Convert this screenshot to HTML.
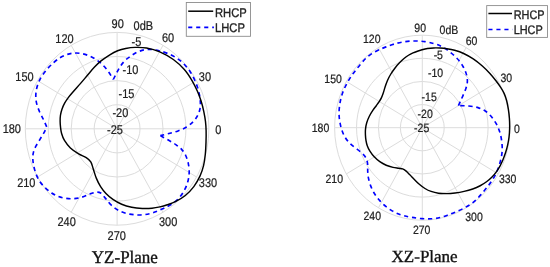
<!DOCTYPE html>
<html><head><meta charset="utf-8"><style>
html,body{margin:0;padding:0;background:#fff;}
body{width:550px;height:267px;overflow:hidden;}
svg{display:block;text-rendering:geometricPrecision;}
.g ellipse,.g line{fill:none;stroke:#dcdcdc;stroke-width:1;}
.t{font-family:"Liberation Sans",Arial,sans-serif;fill:#222;stroke:#222;stroke-width:0.2;text-anchor:middle;}
.lg{font-family:"Liberation Sans",Arial,sans-serif;fill:#222;stroke:#222;stroke-width:0.3;}
.cap{font-family:"Liberation Serif","Times New Roman",serif;fill:#111;stroke:#111;stroke-width:0.35;text-anchor:middle;}
.blk{fill:none;stroke:#000;stroke-width:1.45;stroke-linejoin:round;}
.blue{fill:none;stroke:#0000ff;stroke-width:1.65;stroke-dasharray:4.3 3.7;}
</style></head><body>
<svg width="550" height="267" viewBox="0 0 550 267">
<rect width="550" height="267" fill="#fff"/>
<g class="g"><ellipse cx="117.10" cy="128.80" rx="22.95" ry="24.10"/>
<ellipse cx="117.10" cy="128.80" rx="45.90" ry="48.20"/>
<ellipse cx="117.10" cy="128.80" rx="68.85" ry="72.29"/>
<ellipse cx="117.10" cy="128.80" rx="91.80" ry="96.39"/>
<line x1="208.90" y1="128.80" x2="25.30" y2="128.80"/>
<line x1="196.60" y1="80.61" x2="37.60" y2="177.00"/>
<line x1="163.00" y1="45.32" x2="71.20" y2="212.28"/>
<line x1="117.10" y1="32.41" x2="117.10" y2="225.19"/>
<line x1="71.20" y1="45.32" x2="163.00" y2="212.28"/>
<line x1="37.60" y1="80.61" x2="196.60" y2="177.00"/></g>
<path class="blu blue" d="M113.30 79.50 C113.83 78.47 115.35 75.44 116.48 73.32 C117.61 71.20 118.65 68.88 120.06 66.77 C121.48 64.65 123.03 62.51 124.95 60.62 C126.87 58.74 129.26 56.99 131.58 55.46 C133.91 53.94 136.27 52.46 138.93 51.45 C141.58 50.45 144.16 49.56 147.53 49.44 C150.90 49.31 155.12 49.74 159.15 50.71 C163.18 51.68 167.89 53.37 171.69 55.28 C175.50 57.18 178.95 59.49 181.98 62.16 C185.01 64.84 187.59 67.94 189.88 71.32 C192.18 74.71 194.20 78.76 195.75 82.47 C197.31 86.19 198.44 90.26 199.21 93.62 C199.98 96.98 200.26 100.00 200.37 102.61 C200.49 105.22 200.33 107.15 199.89 109.26 C199.46 111.37 198.87 113.23 197.76 115.28 C196.66 117.33 195.17 119.59 193.28 121.55 C191.40 123.51 189.01 125.50 186.47 127.05 C183.92 128.61 180.93 129.83 178.02 130.90 C175.11 131.97 171.95 132.70 169.00 133.48 C166.05 134.26 161.75 135.25 160.30 135.60 M160.30 135.60 C161.70 136.38 166.08 138.75 168.72 140.29 C171.36 141.83 173.95 143.30 176.13 144.85 C178.31 146.40 180.20 147.81 181.79 149.59 C183.39 151.37 184.62 153.25 185.69 155.51 C186.76 157.78 187.64 160.45 188.23 163.18 C188.82 165.90 189.24 168.92 189.21 171.85 C189.18 174.78 188.79 177.81 188.06 180.74 C187.32 183.68 186.23 186.69 184.79 189.49 C183.34 192.28 181.55 195.11 179.40 197.52 C177.26 199.93 174.49 202.16 171.92 203.94 C169.34 205.73 166.42 207.00 163.94 208.21 C161.45 209.42 159.39 210.27 157.01 211.19 C154.64 212.10 152.49 213.08 149.70 213.71 C146.91 214.34 143.61 214.90 140.25 214.97 C136.90 215.04 133.03 214.78 129.57 214.11 C126.12 213.43 122.54 212.38 119.50 210.90 C116.46 209.41 113.67 207.31 111.34 205.22 C109.01 203.13 107.24 200.35 105.53 198.36 C103.82 196.38 102.67 194.34 101.08 193.31 C99.49 192.27 97.97 191.99 96.00 192.16 C94.03 192.33 91.66 193.49 89.27 194.34 C86.88 195.19 84.28 196.54 81.66 197.27 C79.04 198.00 76.30 198.54 73.57 198.69 C70.83 198.85 67.83 198.60 65.23 198.21 C62.63 197.82 60.22 197.23 57.96 196.37 C55.70 195.50 53.78 194.44 51.68 193.03 C49.57 191.62 47.32 189.85 45.33 187.92 C43.34 185.98 41.30 183.79 39.73 181.42 C38.16 179.04 36.91 176.35 35.90 173.67 C34.88 170.99 34.16 167.94 33.64 165.36 C33.13 162.78 32.82 160.36 32.79 158.19 C32.76 156.02 32.93 154.33 33.44 152.34 C33.96 150.35 34.81 148.40 35.90 146.23 C37.00 144.07 38.64 141.59 40.00 139.33 C41.35 137.07 42.90 134.75 44.02 132.67 C45.14 130.58 46.25 127.78 46.70 126.80 M46.70 126.80 C46.17 125.60 44.74 122.27 43.50 119.63 C42.25 116.98 40.45 114.01 39.23 110.93 C38.00 107.86 36.66 104.59 36.16 101.18 C35.67 97.78 35.64 94.10 36.25 90.50 C36.87 86.89 38.16 82.99 39.85 79.58 C41.53 76.17 44.06 72.86 46.36 70.03 C48.67 67.20 51.32 64.70 53.66 62.60 C56.01 60.51 58.15 58.83 60.44 57.45 C62.73 56.08 65.00 55.08 67.42 54.35 C69.84 53.62 72.44 53.17 74.96 53.07 C77.49 52.97 80.09 53.23 82.58 53.75 C85.08 54.27 87.57 55.15 89.92 56.18 C92.27 57.21 94.52 58.45 96.68 59.93 C98.84 61.41 100.92 63.10 102.88 65.06 C104.84 67.03 106.72 69.34 108.46 71.74 C110.19 74.15 112.49 78.21 113.30 79.50"/>
<path class="blk" d="M206.11 130.83 C206.02 127.42 205.86 124.64 205.47 121.42 C205.09 118.21 204.52 114.89 203.80 111.54 C203.08 108.20 202.23 104.71 201.16 101.34 C200.10 97.97 198.93 94.78 197.41 91.32 C195.88 87.87 194.19 84.23 192.02 80.60 C189.84 76.98 187.45 73.08 184.34 69.56 C181.23 66.05 177.46 62.45 173.36 59.50 C169.27 56.55 164.24 53.77 159.77 51.84 C155.29 49.92 150.61 48.72 146.51 47.98 C142.41 47.23 138.63 47.32 135.16 47.39 C131.69 47.47 128.61 47.87 125.68 48.43 C122.75 49.00 120.30 49.67 117.59 50.77 C114.89 51.87 112.16 53.37 109.45 55.02 C106.75 56.67 103.85 58.67 101.36 60.67 C98.87 62.67 96.77 64.67 94.52 67.02 C92.27 69.38 90.22 72.01 87.86 74.78 C85.50 77.55 82.77 80.87 80.36 83.65 C77.95 86.44 75.42 89.18 73.41 91.50 C71.39 93.82 69.75 95.63 68.28 97.57 C66.82 99.51 65.69 101.23 64.64 103.16 C63.58 105.09 62.67 107.13 61.97 109.14 C61.27 111.15 60.76 113.22 60.46 115.24 C60.15 117.26 60.11 119.24 60.13 121.25 C60.14 123.26 60.29 125.24 60.54 127.29 C60.78 129.33 60.94 131.30 61.60 133.50 C62.25 135.70 62.98 138.07 64.45 140.48 C65.91 142.89 68.02 145.73 70.39 147.96 C72.75 150.19 76.00 152.26 78.64 153.88 C81.28 155.49 84.21 156.32 86.23 157.66 C88.25 159.00 89.60 160.03 90.78 161.91 C91.95 163.79 92.35 166.26 93.27 168.97 C94.19 171.67 95.08 175.17 96.30 178.12 C97.52 181.07 98.99 184.12 100.60 186.68 C102.21 189.25 103.91 191.39 105.96 193.51 C108.02 195.64 110.31 197.63 112.93 199.43 C115.54 201.22 118.54 202.97 121.67 204.27 C124.81 205.58 128.28 206.56 131.71 207.25 C135.15 207.95 138.90 208.28 142.28 208.44 C145.66 208.60 149.05 208.48 151.99 208.22 C154.94 207.97 157.40 207.48 159.95 206.91 C162.50 206.33 164.65 205.69 167.30 204.76 C169.95 203.84 172.84 202.91 175.84 201.36 C178.85 199.81 182.33 197.92 185.32 195.45 C188.32 192.99 191.39 189.79 193.83 186.58 C196.27 183.36 198.33 179.67 199.95 176.17 C201.57 172.67 202.66 169.26 203.55 165.60 C204.44 161.94 204.90 158.16 205.30 154.20 C205.71 150.24 205.87 145.74 206.01 141.84 C206.14 137.95 206.20 134.23 206.11 130.83Z"/>
<text class="t" transform="translate(117.70 28.03) scale(1 1.150)" font-size="11.00">90</text>
<text class="t" transform="translate(143.30 29.53) scale(1 1.150)" font-size="11.00">0dB</text>
<text class="t" transform="translate(168.00 42.23) scale(1 1.150)" font-size="11.00">60</text>
<text class="t" transform="translate(204.90 81.03) scale(1 1.150)" font-size="11.00">30</text>
<text class="t" transform="translate(218.20 133.73) scale(1 1.150)" font-size="11.00">0</text>
<text class="t" transform="translate(208.00 186.73) scale(1 1.150)" font-size="11.00">330</text>
<text class="t" transform="translate(168.10 225.93) scale(1 1.150)" font-size="11.00">300</text>
<text class="t" transform="translate(116.70 240.03) scale(1 1.150)" font-size="11.00">270</text>
<text class="t" transform="translate(66.60 225.83) scale(1 1.150)" font-size="11.00">240</text>
<text class="t" transform="translate(26.30 186.83) scale(1 1.150)" font-size="11.00">210</text>
<text class="t" transform="translate(11.80 133.03) scale(1 1.150)" font-size="11.00">180</text>
<text class="t" transform="translate(24.50 81.13) scale(1 1.150)" font-size="11.00">150</text>
<text class="t" transform="translate(64.50 43.03) scale(1 1.150)" font-size="11.00">120</text>
<text class="t" transform="translate(136.50 46.33) scale(1 1.150)" font-size="11.00">-5</text>
<text class="t" transform="translate(130.50 74.03) scale(1 1.150)" font-size="11.00">-10</text>
<text class="t" transform="translate(126.50 98.03) scale(1 1.150)" font-size="11.00">-15</text>
<text class="t" transform="translate(120.40 116.93) scale(1 1.150)" font-size="11.00">-20</text>
<text class="t" transform="translate(115.00 133.53) scale(1 1.150)" font-size="11.00">-25</text>
<g class="g"><ellipse cx="422.30" cy="127.70" rx="21.93" ry="23.13"/>
<ellipse cx="422.30" cy="127.70" rx="43.85" ry="46.26"/>
<ellipse cx="422.30" cy="127.70" rx="65.78" ry="69.39"/>
<ellipse cx="422.30" cy="127.70" rx="87.70" ry="92.52"/>
<line x1="510.00" y1="127.70" x2="334.60" y2="127.70"/>
<line x1="498.25" y1="81.44" x2="346.35" y2="173.96"/>
<line x1="466.15" y1="47.57" x2="378.45" y2="207.83"/>
<line x1="422.30" y1="35.18" x2="422.30" y2="220.22"/>
<line x1="378.45" y1="47.57" x2="466.15" y2="207.83"/>
<line x1="346.35" y1="81.44" x2="498.25" y2="173.96"/></g>
<path class="blu blue" d="M458.40 105.60 C458.75 104.85 459.67 102.89 460.48 101.10 C461.30 99.30 462.37 96.97 463.29 94.81 C464.20 92.65 465.32 90.21 465.99 88.13 C466.66 86.06 467.13 84.21 467.31 82.38 C467.49 80.54 467.35 78.88 467.05 77.12 C466.76 75.36 466.22 73.58 465.55 71.80 C464.88 70.03 464.00 68.18 463.03 66.47 C462.06 64.75 460.97 63.11 459.73 61.52 C458.49 59.92 457.10 58.42 455.58 56.91 C454.05 55.40 452.29 53.84 450.59 52.47 C448.89 51.09 447.12 49.77 445.37 48.65 C443.63 47.54 442.06 46.65 440.12 45.79 C438.18 44.93 436.24 44.18 433.72 43.49 C431.20 42.80 428.24 42.08 425.01 41.66 C421.79 41.24 417.93 40.93 414.36 40.97 C410.78 41.01 406.93 41.37 403.57 41.87 C400.21 42.38 397.11 43.18 394.19 44.01 C391.27 44.84 388.68 45.85 386.06 46.86 C383.45 47.88 380.87 48.97 378.50 50.10 C376.13 51.23 373.83 52.38 371.83 53.65 C369.83 54.93 368.13 56.25 366.47 57.75 C364.82 59.25 363.39 60.92 361.88 62.63 C360.38 64.35 358.90 66.21 357.45 68.03 C356.00 69.84 354.58 71.58 353.18 73.51 C351.79 75.44 350.40 77.44 349.10 79.60 C347.79 81.77 346.44 84.25 345.35 86.49 C344.26 88.73 343.32 90.94 342.56 93.03 C341.80 95.12 341.28 96.97 340.79 99.03 C340.30 101.09 339.91 103.28 339.62 105.40 C339.33 107.53 339.12 109.75 339.06 111.78 C339.00 113.80 339.07 115.61 339.25 117.54 C339.43 119.47 339.73 121.36 340.13 123.35 C340.53 125.34 340.98 127.43 341.65 129.47 C342.32 131.51 343.06 133.57 344.15 135.59 C345.25 137.61 346.61 139.70 348.24 141.58 C349.87 143.46 351.96 145.23 353.94 146.89 C355.92 148.54 358.28 149.94 360.10 151.52 C361.93 153.09 363.70 154.71 364.88 156.35 C366.07 158.00 366.75 159.75 367.22 161.40 C367.69 163.04 367.63 164.52 367.72 166.21 C367.80 167.89 367.58 169.47 367.72 171.50 C367.85 173.53 367.99 175.89 368.53 178.41 C369.08 180.94 369.92 183.95 371.00 186.64 C372.09 189.33 373.50 192.12 375.04 194.55 C376.57 196.97 378.37 199.16 380.21 201.18 C382.06 203.20 384.13 205.03 386.12 206.64 C388.12 208.26 390.20 209.71 392.17 210.89 C394.15 212.08 395.99 212.95 397.97 213.76 C399.95 214.56 401.73 215.11 404.05 215.72 C406.38 216.33 408.95 216.94 411.93 217.42 C414.91 217.91 418.59 218.42 421.93 218.65 C425.26 218.87 428.88 218.96 431.93 218.77 C434.99 218.59 437.67 218.12 440.23 217.54 C442.79 216.96 444.92 216.13 447.30 215.28 C449.67 214.43 451.97 213.51 454.50 212.44 C457.03 211.38 459.89 210.19 462.49 208.88 C465.10 207.56 467.83 206.09 470.11 204.56 C472.40 203.03 474.29 201.45 476.18 199.71 C478.07 197.96 479.71 196.06 481.46 194.06 C483.22 192.06 485.05 189.81 486.71 187.69 C488.36 185.58 489.99 183.48 491.41 181.37 C492.83 179.27 494.08 177.30 495.22 175.07 C496.37 172.84 497.39 170.42 498.29 167.99 C499.18 165.57 499.97 162.87 500.57 160.52 C501.17 158.16 501.60 155.96 501.87 153.86 C502.15 151.76 502.23 149.91 502.22 147.93 C502.21 145.96 502.06 144.00 501.82 142.02 C501.58 140.04 501.27 138.06 500.81 136.05 C500.34 134.03 499.85 132.03 499.05 129.92 C498.26 127.81 497.29 125.57 496.03 123.39 C494.76 121.20 493.22 118.84 491.48 116.81 C489.73 114.79 487.80 112.77 485.56 111.23 C483.31 109.70 480.82 108.47 478.02 107.59 C475.21 106.72 472.00 106.32 468.73 105.99 C465.46 105.65 460.12 105.66 458.40 105.60"/>
<path class="blk" d="M509.65 127.93 C509.71 124.84 509.62 121.66 509.41 118.52 C509.19 115.38 508.83 112.12 508.35 109.08 C507.87 106.04 507.26 102.91 506.55 100.29 C505.85 97.68 505.09 95.53 504.11 93.40 C503.13 91.26 502.05 89.57 500.69 87.47 C499.33 85.37 497.74 83.13 495.95 80.80 C494.15 78.47 492.18 75.96 489.91 73.50 C487.65 71.03 485.12 68.44 482.34 66.01 C479.56 63.57 476.36 60.99 473.23 58.91 C470.11 56.82 466.71 54.93 463.61 53.50 C460.51 52.06 457.42 51.10 454.63 50.30 C451.84 49.50 449.29 49.09 446.88 48.71 C444.46 48.33 442.32 48.14 440.11 48.00 C437.90 47.87 435.75 47.82 433.63 47.92 C431.51 48.02 429.33 48.27 427.39 48.59 C425.44 48.90 423.65 49.38 421.99 49.82 C420.32 50.26 418.91 50.70 417.41 51.22 C415.91 51.73 414.48 52.22 412.99 52.90 C411.51 53.57 410.00 54.32 408.50 55.26 C407.00 56.20 405.51 57.29 404.01 58.56 C402.50 59.82 400.99 61.26 399.47 62.87 C397.94 64.48 396.34 66.32 394.87 68.22 C393.41 70.11 391.92 72.20 390.69 74.25 C389.45 76.29 388.40 78.35 387.47 80.48 C386.54 82.62 385.81 84.91 385.09 87.04 C384.37 89.17 383.79 91.44 383.17 93.26 C382.55 95.07 382.04 96.52 381.38 97.93 C380.71 99.33 380.02 100.38 379.17 101.68 C378.31 102.98 377.32 104.26 376.26 105.72 C375.20 107.19 373.97 108.69 372.81 110.45 C371.65 112.21 370.35 114.21 369.33 116.26 C368.31 118.31 367.36 120.62 366.72 122.76 C366.08 124.90 365.72 127.04 365.51 129.10 C365.29 131.16 365.36 133.20 365.44 135.12 C365.53 137.03 365.70 138.83 366.01 140.58 C366.31 142.33 366.61 143.87 367.26 145.63 C367.91 147.39 368.75 149.26 369.91 151.13 C371.08 153.00 372.59 155.08 374.23 156.84 C375.88 158.60 377.78 160.30 379.78 161.71 C381.77 163.11 384.00 164.32 386.21 165.27 C388.41 166.22 390.91 166.90 393.01 167.41 C395.10 167.91 397.16 168.03 398.76 168.29 C400.37 168.54 401.43 168.51 402.61 168.94 C403.78 169.38 404.61 169.92 405.82 170.89 C407.02 171.86 408.37 173.28 409.83 174.74 C411.28 176.20 412.93 178.04 414.56 179.66 C416.18 181.29 417.85 183.03 419.59 184.50 C421.32 185.97 423.04 187.35 424.96 188.50 C426.88 189.66 428.87 190.65 431.11 191.43 C433.34 192.21 435.81 192.81 438.38 193.17 C440.94 193.54 443.70 193.67 446.49 193.64 C449.28 193.60 452.18 193.35 455.11 192.97 C458.05 192.60 461.18 192.06 464.11 191.39 C467.05 190.72 470.05 189.89 472.73 188.95 C475.40 188.01 477.86 186.94 480.16 185.74 C482.46 184.55 484.54 183.23 486.52 181.78 C488.50 180.32 490.36 178.69 492.03 177.00 C493.70 175.30 495.19 173.47 496.54 171.60 C497.88 169.73 499.00 167.82 500.09 165.80 C501.17 163.77 502.13 161.67 503.05 159.46 C503.97 157.25 504.83 154.93 505.60 152.55 C506.36 150.18 507.06 147.79 507.63 145.21 C508.21 142.62 508.70 139.92 509.04 137.04 C509.37 134.16 509.59 131.01 509.65 127.93Z"/>
<text class="t" transform="translate(420.20 31.62) scale(1 1.150)" font-size="10.50">90</text>
<text class="t" transform="translate(448.90 33.52) scale(1 1.150)" font-size="10.50">0dB</text>
<text class="t" transform="translate(471.60 45.02) scale(1 1.150)" font-size="10.50">60</text>
<text class="t" transform="translate(506.30 81.92) scale(1 1.150)" font-size="10.50">30</text>
<text class="t" transform="translate(517.00 132.52) scale(1 1.150)" font-size="10.50">0</text>
<text class="t" transform="translate(507.70 183.42) scale(1 1.150)" font-size="10.50">330</text>
<text class="t" transform="translate(474.00 221.32) scale(1 1.150)" font-size="10.50">300</text>
<text class="t" transform="translate(421.70 233.62) scale(1 1.150)" font-size="10.50">270</text>
<text class="t" transform="translate(372.30 220.32) scale(1 1.150)" font-size="10.50">240</text>
<text class="t" transform="translate(334.30 183.12) scale(1 1.150)" font-size="10.50">210</text>
<text class="t" transform="translate(320.50 132.22) scale(1 1.150)" font-size="10.50">180</text>
<text class="t" transform="translate(333.10 82.52) scale(1 1.150)" font-size="10.50">150</text>
<text class="t" transform="translate(371.80 43.02) scale(1 1.150)" font-size="10.50">120</text>
<text class="t" transform="translate(438.30 58.62) scale(1 1.150)" font-size="10.50">-5</text>
<text class="t" transform="translate(435.60 77.32) scale(1 1.150)" font-size="10.50">-10</text>
<text class="t" transform="translate(429.20 100.82) scale(1 1.150)" font-size="10.50">-15</text>
<text class="t" transform="translate(425.20 118.32) scale(1 1.150)" font-size="10.50">-20</text>
<text class="t" transform="translate(421.70 132.32) scale(1 1.150)" font-size="10.50">-25</text>
<rect x="186.30" y="2.50" width="64.20" height="33.80" fill="#fff" stroke="#8c8c8c" stroke-width="0.9"/>
<line x1="188.20" y1="11.20" x2="213.20" y2="11.20" stroke="#000" stroke-width="1.5"/>
<line x1="188.20" y1="27.40" x2="213.90" y2="27.40" class="blue" style="stroke-dasharray:4.1 3.9"/>
<text class="lg" transform="translate(215.00 16.83) scale(1 1.130)" font-size="11.20">RHCP</text>
<text class="lg" transform="translate(215.00 32.13) scale(1 1.130)" font-size="11.20">LHCP</text>
<rect x="486.70" y="5.60" width="60.80" height="31.80" fill="#fff" stroke="#8c8c8c" stroke-width="0.9"/>
<line x1="488.40" y1="13.50" x2="512.00" y2="13.50" stroke="#000" stroke-width="1.5"/>
<line x1="488.40" y1="29.50" x2="512.60" y2="29.50" class="blue" style="stroke-dasharray:4.1 3.9"/>
<text class="lg" transform="translate(513.70 19.21) scale(1 1.130)" font-size="10.90">RHCP</text>
<text class="lg" transform="translate(513.70 34.11) scale(1 1.130)" font-size="10.90">LHCP</text>
<text class="cap" transform="translate(124.85 263.1) scale(1 1.05)" font-size="17">YZ-Plane</text>
<text class="cap" transform="translate(424.6 262.0) scale(1 1.0)" font-size="17">XZ-Plane</text>
</svg></body></html>
